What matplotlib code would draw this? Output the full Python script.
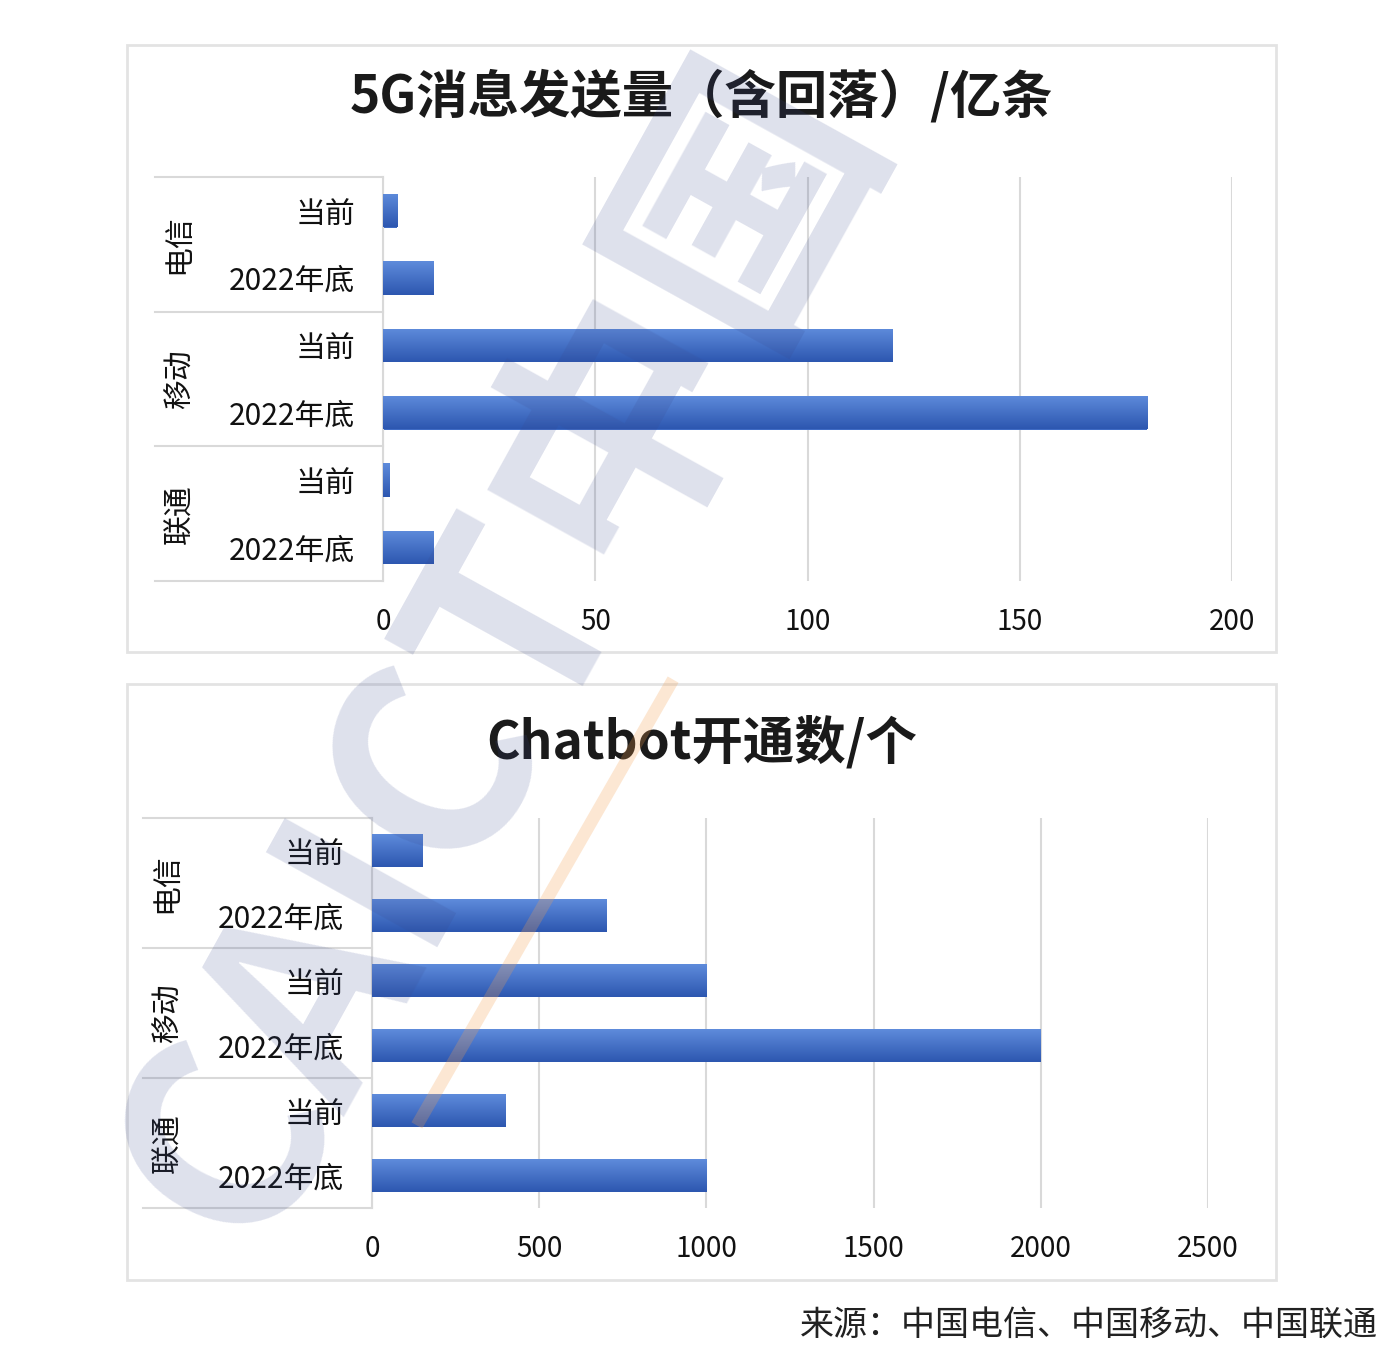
import numpy as np
import matplotlib.pyplot as plt
from matplotlib.colors import LinearSegmentedColormap
from matplotlib.patches import Rectangle
from matplotlib.lines import Line2D

plt.rcParams['font.family'] = ['Noto Sans CJK SC', 'DejaVu Sans']

# --- data ---
groups = ['电信', '移动', '联通']
periods = ['当前', '2022年底']
msg_values = [3.3, 12, 120, 180, 1.6, 12]          # 5G消息发送量 / 亿条
bot_values = [150, 700, 1000, 2000, 400, 1000]      # Chatbot开通数 / 个
msg_ticks = [0, 50, 100, 150, 200]
bot_ticks = [0, 500, 1000, 1500, 2000, 2500]
msg_title = '5G消息发送量（含回落）/亿条'
bot_title = 'Chatbot开通数/个'
source = '来源：中国电信、中国移动、中国联通'

W, H = 1400, 1346
fig = plt.figure(figsize=(W / 100, H / 100), dpi=100)
fig.patch.set_facecolor('white')

grad = LinearSegmentedColormap.from_list('bar', ['#5E8BDB', '#2D57B0'])
line_c = '#D9D9D9'


def px_box(x0, y0, x1, y1):
    # pixel box -> figure fraction [left, bottom, width, height]
    return [x0 / W, 1 - y1 / H, (x1 - x0) / W, (y1 - y0) / H]


def draw_panel(box, axbox, values, ticks, title, title_y, lab_left, grp_x):
    b = px_box(*box)
    fig.add_artist(Rectangle((b[0], b[1]), b[2], b[3], transform=fig.transFigure,
                             fill=False, edgecolor='#E3E3E3', lw=2))
    ax = fig.add_axes(px_box(*axbox))
    labels = [p for g in groups for p in periods]
    ypos = np.arange(len(labels))
    bars = ax.barh(ypos, values, height=0.5, color='#3F6BC4', zorder=2)
    gv = np.linspace(0, 1, 64).reshape(-1, 1)
    for p in bars.patches:
        x0, y0, w, h = p.get_x(), p.get_y(), p.get_width(), p.get_height()
        im = ax.imshow(gv, cmap=grad, aspect='auto', origin='upper',
                       extent=(x0, x0 + w, y0 + h, y0), zorder=3)
        im.set_clip_path(p)
    ax.set_xlim(ticks[0], ticks[-1])
    ax.set_ylim(len(labels) - 0.5, -0.5)
    ax.set_xticks(ticks)
    ax.set_yticks(ypos)
    ax.set_yticklabels(labels)
    ax.tick_params(axis='y', length=0, pad=20, labelsize=21.5, colors='#111111')
    ax.tick_params(axis='x', length=0, pad=19, labelsize=20, colors='#111111')
    ax.grid(axis='x', color=line_c, lw=1.5, zorder=0)
    for s in ['top', 'right', 'bottom']:
        ax.spines[s].set_visible(False)
    ax.spines['left'].set_color(line_c)
    ax.spines['left'].set_linewidth(1.5)

    # multi-level category axis
    axw = axbox[2] - axbox[0]
    x_left = (lab_left - axbox[0]) / axw
    trans = ax.get_yaxis_transform()
    for k in range(len(groups) + 1):
        yb = k * len(periods) - 0.5
        ax.add_line(Line2D([x_left, 0], [yb, yb], transform=trans, color=line_c,
                           lw=1.5, clip_on=False))
    gx = (grp_x - axbox[0]) / axw
    for k, g in enumerate(groups):
        ax.text(gx, k * len(periods) + 0.5, g, transform=trans, rotation=90,
                ha='center', va='center', fontsize=21.5, color='#111111')

    fig.text((box[0] + box[2]) / 2 / W, 1 - title_y / H, title, ha='center', va='center',
             fontsize=37, fontweight='bold', color='#1a1a1a')
    return ax


draw_panel((127, 45, 1276, 652), (383, 177, 1232, 581), msg_values, msg_ticks,
           msg_title, 97, 155, 180)
draw_panel((127, 684, 1276, 1280), (372, 818, 1208, 1208), bot_values, bot_ticks,
           bot_title, 743, 143, 168)

fig.text(1378 / W, 1 - 1325 / H, source, ha='right', va='center', fontsize=24.5,
         color='#222222')

# faint watermark
fig.text(500 / W, 1 - 650 / H, 'CAICT中国', rotation=61, ha='center', va='center',
         fontsize=190, fontweight='bold', color='#3A4A8F', alpha=0.17, zorder=10)
fig.add_artist(Line2D([670 / W, 420 / W], [1 - 685 / H, 1 - 1120 / H],
                      transform=fig.transFigure, color='#F5A050', lw=9, alpha=0.25,
                      zorder=10))

fig.savefig('out.png', dpi=100)
